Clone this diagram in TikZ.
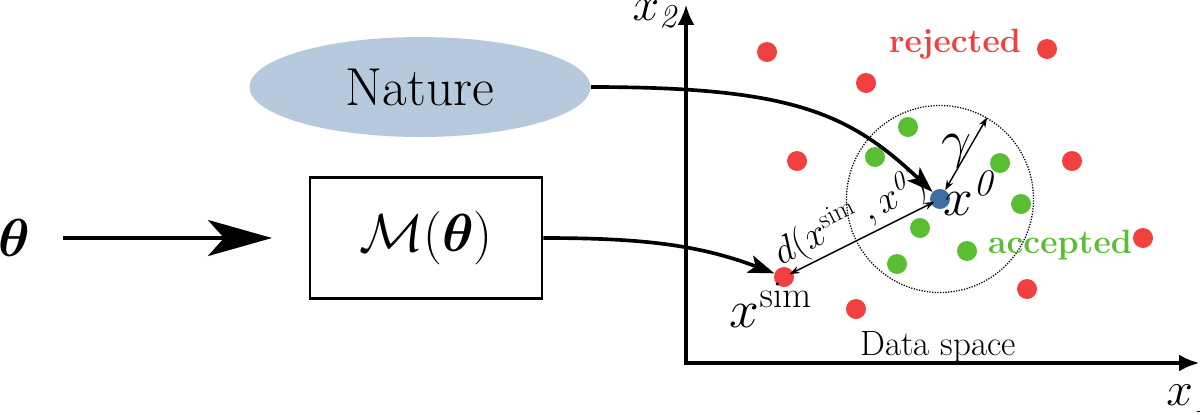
\RequirePackage{fix-cm}
\documentclass[tikz,border=0pt]{standalone}
\usepackage{amsmath}
\usepackage{amssymb}
\usepackage{tikz}
\usetikzlibrary{shapes.geometric,arrows.meta}

\definecolor{natureblue}{RGB}{183,201,220}
\definecolor{rejred}{RGB}{240,64,64}
\definecolor{accgreen}{RGB}{90,190,50}
\definecolor{obsblue}{RGB}{62,110,160}

\begin{document}
\begin{tikzpicture}[
  dot/.style={circle,inner sep=0pt,minimum size=0.5cm},
  reddot/.style={dot,fill=rejred},
  greendot/.style={dot,fill=accgreen},
  bigmath/.style={font=\fontsize{38}{40}\selectfont},
  axislabel/.style={font=\fontsize{34}{36}\selectfont,inner sep=0pt},
  axis/.style={line width=2.4pt,{Latex[length=0.5cm,width=0.42cm]}-{Latex[length=0.5cm,width=0.42cm]}},
  flow/.style={line width=2.6pt,-{Stealth[length=0.65cm,width=0.45cm,inset=0.15cm]}},
  thetaarrow/.style={line width=3.2pt,-{Stealth[length=1.6cm,width=0.9cm,inset=0.4cm]}},
  thinarrow/.style={line width=1pt,{Stealth[length=0.25cm,width=0.18cm]}-{Stealth[length=0.25cm,width=0.18cm]}}
]
\useasboundingbox (0,0) rectangle (30,10.35);

% left part
\node (theta) at (0.35,4.4) [bigmath] {$\boldsymbol{\theta}$};
\node (model) at (10.65,4.4) [draw,line width=1.8pt,minimum width=5.8cm,minimum height=3.025cm,bigmath] {$\mathcal{M}(\boldsymbol{\theta})$};
\node (nature) at (10.5,8.175) [ellipse,fill=natureblue,minimum width=8.525cm,minimum height=2.5cm,bigmath] {Nature};
\draw [thetaarrow] ([xshift=1.225cm]theta.center) -- ([xshift=-3.85cm]model.center);

% data space
\coordinate (o) at (17.15,1.275);
\coordinate (x1end) at (29.98,1.275);
\coordinate (x2end) at (17.15,10.23);
\draw [axis] (x2end) -- (o) -- (x1end);
\node (lx1) at (29.15,0.225) [anchor=base west,axislabel] {$x_{\mathit{1}}$};
\node (lx2) at (16.425,9.85) [anchor=base,axislabel] {$x_{\mathit{2}}$};
\node (space) at (23.45,1.475) [anchor=base,font=\fontsize{25}{27}\selectfont] {Data space};

\node (tol) at (23.5,5.375) [circle,draw,densely dotted,line width=0.9pt,minimum size=4.675cm] {};

\node (r1) at (19.175,9.05) [reddot] {};
\node (r2) at (26.175,9.125) [reddot] {};
\node (r3) at (21.65,8.275) [reddot] {};
\node (r4) at (19.925,6.325) [reddot] {};
\node (r5) at (26.8,6.325) [reddot] {};
\node (r6) at (28.575,4.4) [reddot] {};
\node (r7) at (21.4,2.625) [reddot] {};
\node (r8) at (25.675,3.125) [reddot] {};
\node (xsim) at (19.6,3.425) [reddot] {};

\node (g1) at (22.7,7.175) [greendot] {};
\node (g2) at (21.875,6.425) [greendot] {};
\node (g3) at (25.0,6.275) [greendot] {};
\node (g4) at (25.525,5.25) [greendot] {};
\node (g5) at (23.0,4.65) [greendot] {};
\node (g6) at (24.175,4.075) [greendot] {};
\node (g7) at (22.425,3.75) [greendot] {};

\node (x0) at (23.5,5.375) [dot,fill=obsblue] {};

\node (rej) at (23.875,9.05) [anchor=base,text=rejred,font=\fontsize{24}{26}\selectfont\bfseries] {rejected};
\node (acc) at (26.5,4.025) [anchor=base,text=accgreen,font=\fontsize{24}{26}\selectfont\bfseries] {accepted};
\node (lxsim) at (19.275,2.175) [anchor=base,bigmath] {$x^{\mathrm{sim}}$};
\node (lx0) at (24.275,4.975) [anchor=base,bigmath] {$x^{\mathit{0}}$};
\node (lgamma) at (23.91,6.41) [anchor=base,bigmath] {$\gamma$};

% connectors
\draw [flow] (nature) .. controls (19.775,8.175) and (21.21,7.54) .. (x0);
\draw [flow] (model) .. controls (16.05,4.4) and (17.47,4.23) .. (xsim);
\draw [thinarrow,shorten <=-0.1cm,shorten >=-0.1cm] (xsim) -- (x0)
  node [pos=0.49,sloped,above,inner sep=1pt,font=\fontsize{27}{29}\selectfont] {$d(x^{\mathrm{sim}}\,,x^{\mathit{0}})$};
\draw [thinarrow] (x0) -- (tol.60);
\end{tikzpicture}
\end{document}
